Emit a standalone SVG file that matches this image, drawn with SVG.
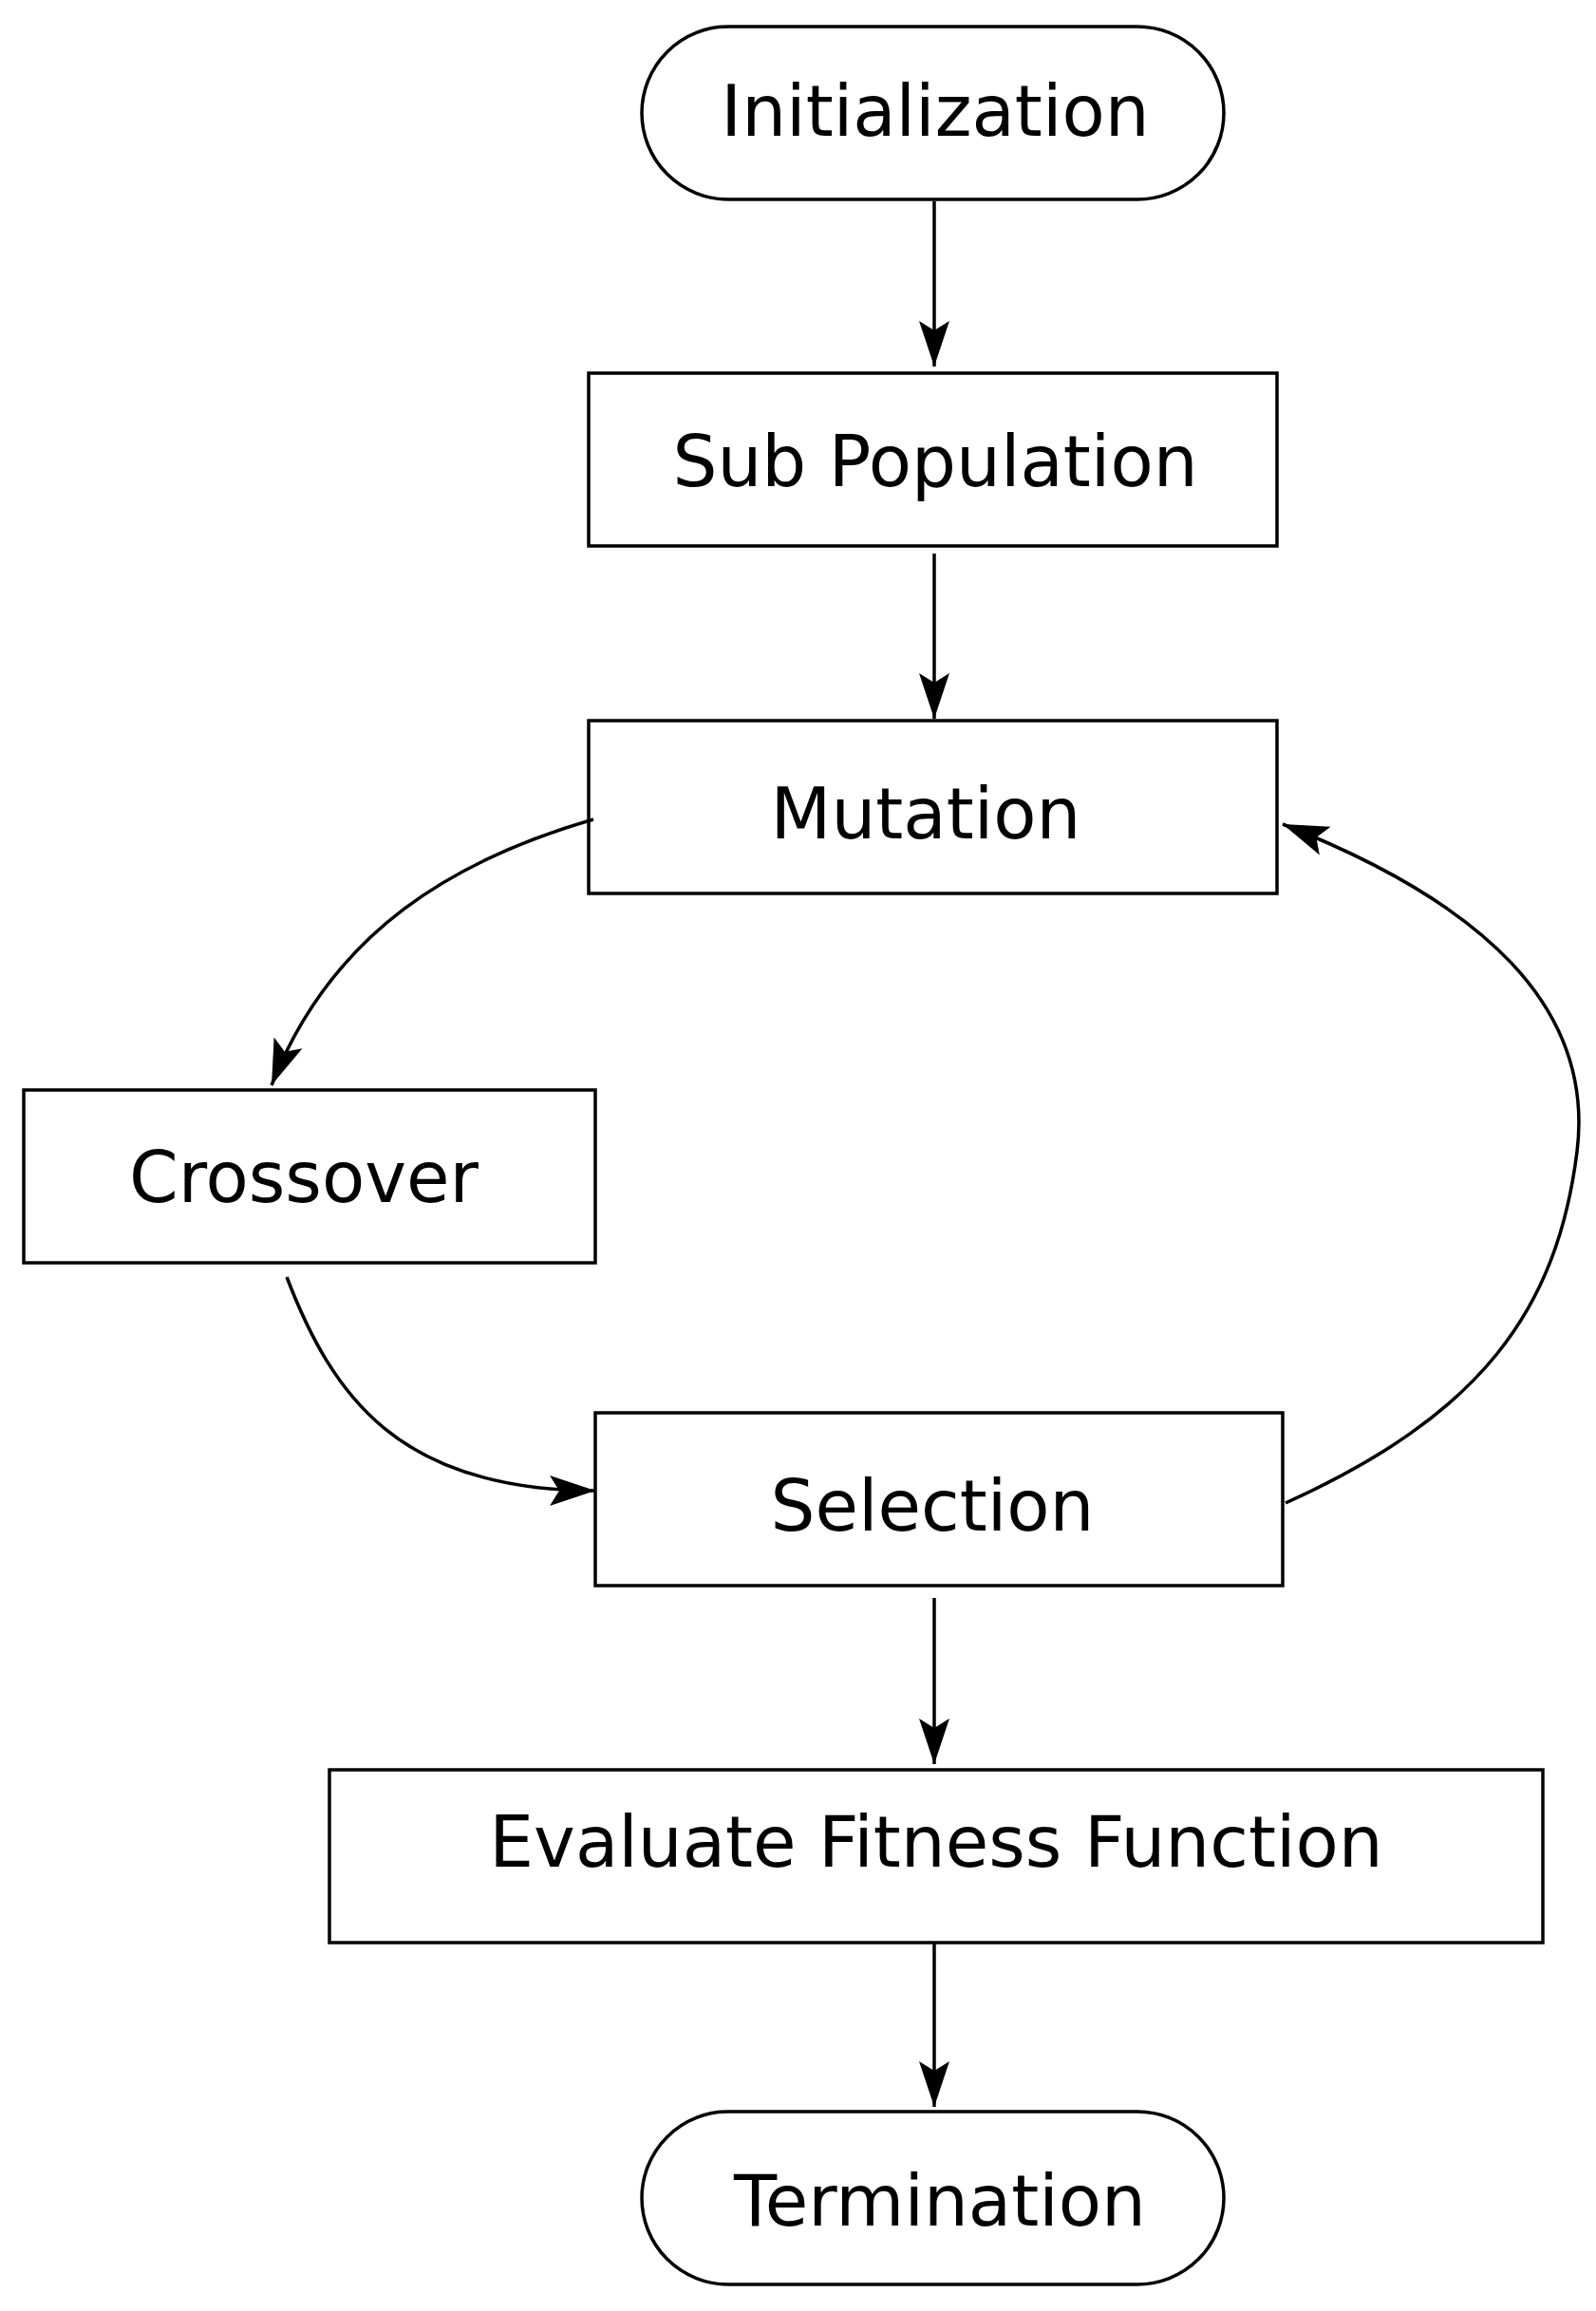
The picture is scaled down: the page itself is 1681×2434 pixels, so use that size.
<svg xmlns="http://www.w3.org/2000/svg" width="1681" height="2434" viewBox="0 0 1681 2434">
<style>
.n{fill:#fff;stroke:#000;stroke-width:3.5}
.t{font-family:"DejaVu Sans",sans-serif;font-size:74px;text-anchor:middle;dominant-baseline:central;fill:#000}
.c{fill:none;stroke:#000;stroke-width:3.5}
</style>
<defs>
<marker id="a" markerUnits="userSpaceOnUse" markerWidth="50" markerHeight="40" viewBox="0 0 50 40" refX="48" refY="20" orient="auto">
<path d="M0,4 L48,20 L0,36 L10,20 Z" fill="#000"/>
</marker>
</defs>
<g id="init"><rect class="n" x="676" y="28" width="613" height="182" rx="91"/><text class="t" x="985" y="117">Initialization</text></g>
<g id="sub"><rect class="n" x="620" y="393" width="725" height="182"/><text class="t" x="985" y="486">Sub Population</text></g>
<g id="mut"><rect class="n" x="620" y="759" width="725" height="182"/><text class="t" x="975" y="857">Mutation</text></g>
<g id="cross"><rect class="n" x="25" y="1148" width="602" height="182"/><text class="t" x="320" y="1240">Crossover</text></g>
<g id="sel"><rect class="n" x="627" y="1488" width="724" height="182"/><text class="t" x="982" y="1586">Selection</text></g>
<g id="eval"><rect class="n" x="347" y="1864" width="1278" height="182"/><text class="t" x="986" y="1940">Evaluate Fitness Function</text></g>
<g id="term"><rect class="n" x="676" y="2224" width="613" height="182" rx="91"/><text class="t" x="990" y="2318">Termination</text></g>
<g id="connectors">
<path class="c" d="M984,212 L984,386" marker-end="url(#a)"/>
<path class="c" d="M984,583 L984,757" marker-end="url(#a)"/>
<path class="c" d="M984,1683 L984,1858" marker-end="url(#a)"/>
<path class="c" d="M984,2046 L984,2219" marker-end="url(#a)"/>
<path class="c" d="M625,863 C480,905 350,980 286,1143" marker-end="url(#a)"/>
<path class="c" d="M302,1345 C350,1470 420,1570 627,1570" marker-end="url(#a)"/>
<path class="c" d="M1354,1583 C1560,1490 1640,1380 1661,1213 C1680,1060 1560,950 1351,868" marker-end="url(#a)"/>
</g>
</svg>
